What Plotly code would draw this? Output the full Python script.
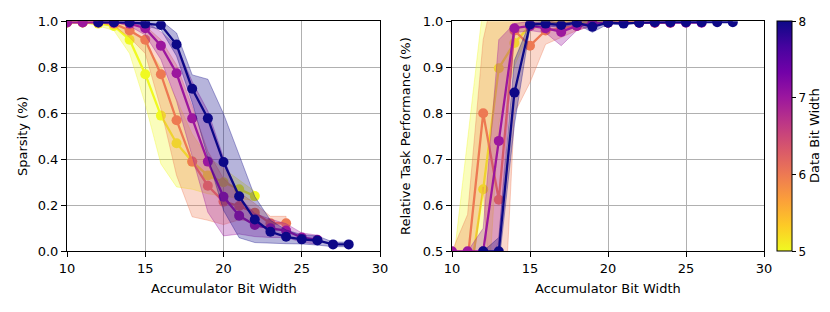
import plotly.graph_objects as go

# ---------------- data ----------------
data_bits = [5, 6, 7, 8]
colors = {5: "#f0f921", 6: "#ed7953", 7: "#9c179e", 8: "#0d0887"}
rgb = {5: (240, 249, 33), 6: (237, 121, 83), 7: (156, 23, 158), 8: (13, 8, 135)}

acc_5 = list(range(10, 23))
acc_6 = list(range(10, 25))
acc_7 = list(range(10, 27))
acc_8 = list(range(12, 29))

# Sparsity (left)
sp_mean_5 = [0.995, 0.995, 0.99, 0.98, 0.92, 0.77, 0.59, 0.47, 0.39, 0.33, 0.30, 0.27, 0.24]
sp_std_5 = [0.0, 0.0, 0.01, 0.02, 0.06, 0.13, 0.21, 0.19, 0.12, 0.08, 0.06, 0.04, 0.02]
sp_mean_6 = [0.995, 0.995, 0.995, 0.99, 0.96, 0.92, 0.77, 0.57, 0.39, 0.285, 0.216, 0.197, 0.168, 0.122, 0.122]
sp_std_6 = [0.0, 0.0, 0.0, 0.01, 0.03, 0.06, 0.15, 0.24, 0.24, 0.15, 0.10, 0.06, 0.04, 0.03, 0.03]
sp_mean_7 = [0.995, 0.995, 0.995, 0.995, 0.99, 0.97, 0.894, 0.774, 0.578, 0.39, 0.237, 0.155, 0.114, 0.10, 0.09, 0.06, 0.05]
sp_std_7 = [0.0, 0.0, 0.0, 0.0, 0.01, 0.03, 0.06, 0.12, 0.16, 0.22, 0.17, 0.08, 0.05, 0.04, 0.03, 0.02, 0.02]
sp_mean_8 = [0.995, 0.995, 0.995, 0.99, 0.984, 0.899, 0.707, 0.578, 0.388, 0.239, 0.138, 0.085, 0.063, 0.052, 0.047, 0.03, 0.03]
sp_std_8 = [0.0, 0.0, 0.0, 0.01, 0.02, 0.05, 0.06, 0.17, 0.21, 0.18, 0.10, 0.05, 0.03, 0.02, 0.02, 0.01, 0.01]

# Relative task performance (right)
rp_mean_5 = [0.30, 0.41, 0.635, 0.898, 0.953, 0.99, 0.997, 0.998, 0.998, 0.998, 0.998, 0.998, 0.998]
rp_std_5 = [0.15, 0.33, 0.40, 0.12, 0.05, 0.01, 0.003, 0.0, 0.0, 0.0, 0.0, 0.0, 0.0]
rp_mean_6 = [0.45, 0.48, 0.80, 0.612, 0.98, 0.947, 0.98, 0.985, 0.99, 0.995, 0.997, 0.997, 0.997, 0.997, 0.997]
rp_std_6 = [0.05, 0.10, 0.16, 0.50, 0.18, 0.08, 0.03, 0.02, 0.01, 0.005, 0.0, 0.0, 0.0, 0.0, 0.0]
rp_mean_7 = [0.50, 0.50, 0.50, 0.74, 0.985, 0.99, 0.985, 0.977, 0.99, 0.995, 0.997, 0.997, 0.997, 0.997, 0.997, 0.997, 0.997]
rp_std_7 = [0.0, 0.0, 0.05, 0.22, 0.01, 0.01, 0.01, 0.03, 0.01, 0.005, 0.0, 0.0, 0.0, 0.0, 0.0, 0.0, 0.0]
rp_mean_8 = [0.50, 0.50, 0.845, 0.993, 0.995, 0.992, 0.997, 0.988, 0.997, 0.995, 0.997, 0.998, 0.998, 0.998, 0.998, 0.998, 0.998]
rp_std_8 = [0.0, 0.03, 0.07, 0.005, 0.005, 0.005, 0.003, 0.012, 0.003, 0.003, 0.0, 0.0, 0.0, 0.0, 0.0, 0.0, 0.0]

x_ticks = [10, 15, 20, 25, 30]
sp_ticks = [0.0, 0.2, 0.4, 0.6, 0.8, 1.0]
rp_ticks = [0.5, 0.6, 0.7, 0.8, 0.9, 1.0]
cbar_ticks = [5, 6, 7, 8]

series = {
    5: (acc_5, sp_mean_5, sp_std_5, rp_mean_5, rp_std_5),
    6: (acc_6, sp_mean_6, sp_std_6, rp_mean_6, rp_std_6),
    7: (acc_7, sp_mean_7, sp_std_7, rp_mean_7, rp_std_7),
    8: (acc_8, sp_mean_8, sp_std_8, rp_mean_8, rp_std_8),
}

# ---------------- figure geometry (page pixels; page has 8px body margin) ----------------
OFF = 8
W, H = 830 - OFF, 312 - OFF


def px(x):
    return (x - OFF) / W


def py(y):
    return 1 - (y - OFF) / H


fig = go.Figure()
FONT = "DejaVu Sans"


def rgba(b, a):
    r, g, bb = rgb[b]
    return f"rgba({r},{g},{bb},{a})"


for b in data_bits:
    xs, spm, sps, rpm, rps = series[b]
    for (mean, std, xa, ya) in ((spm, sps, "x", "y"), (rpm, rps, "x2", "y2")):
        up = [m + s for m, s in zip(mean, std)]
        lo = [m - s for m, s in zip(mean, std)]
        fig.add_trace(go.Scatter(
            x=xs + xs[::-1], y=up + lo[::-1], fill="toself",
            fillcolor=rgba(b, 0.3), line=dict(color=rgba(b, 0.35), width=1),
            mode="lines", hoverinfo="skip", showlegend=False, xaxis=xa, yaxis=ya))
        fig.add_trace(go.Scatter(
            x=xs, y=mean, mode="lines+markers",
            line=dict(color=colors[b], width=2.3),
            marker=dict(color=colors[b], size=10),
            showlegend=False, xaxis=xa, yaxis=ya))

ytop = py(21.3)
ybot = py(251.3)

# colorbar trace
fig.add_trace(go.Scatter(
    x=[None], y=[None], mode="markers", showlegend=False,
    marker=dict(color=[5], cmin=5, cmax=8, colorscale="Plasma_r", showscale=True,
                colorbar=dict(x=px(777), xanchor="left", y=(ytop + ybot) / 2,
                              yanchor="middle", len=ytop - ybot, lenmode="fraction",
                              thickness=15, outlinecolor="black", outlinewidth=1,
                              tickvals=cbar_ticks, ticks="outside", ticklen=4,
                              tickcolor="black", tickfont=dict(family=FONT, size=12, color="black"),
                              xpad=0, ypad=0)),
    xaxis="x2", yaxis="y2"))

axis_common = dict(
    showline=True, mirror=True, linecolor="black", linewidth=1,
    ticks="outside", ticklen=5, tickwidth=1, tickcolor="black",
    showgrid=True, gridcolor="#b0b0b0", gridwidth=1, zeroline=False,
    tickfont=dict(family=FONT, size=13, color="black"),
)

ydom = [ybot, ytop]
fig.update_layout(
    width=W, height=H,
    margin=dict(l=0, r=0, t=0, b=0, autoexpand=False),
    paper_bgcolor="white", plot_bgcolor="white",
    showlegend=False,
    xaxis=dict(domain=[px(67), px(380)], range=[10, 30], tickvals=x_ticks, anchor="y", **axis_common),
    yaxis=dict(domain=ydom, range=[0, 1], tickvals=sp_ticks, ticktext=[f"{v:.1f}" for v in sp_ticks],
               anchor="x", **axis_common),
    xaxis2=dict(domain=[px(452), px(764)], range=[10, 30], tickvals=x_ticks, anchor="y2", **axis_common),
    yaxis2=dict(domain=ydom, range=[0.5, 1], tickvals=rp_ticks, ticktext=[f"{v:.1f}" for v in rp_ticks],
                anchor="x2", **axis_common),
)

ann_font = dict(family=FONT, size=13, color="black")
common_ann = dict(xref="paper", yref="paper", showarrow=False, font=ann_font,
                  xanchor="center", yanchor="middle")
fig.add_annotation(text="Accumulator Bit Width", x=px(223.5), y=py(288), **common_ann)
fig.add_annotation(text="Accumulator Bit Width", x=px(608), y=py(288), **common_ann)
fig.add_annotation(text="Sparsity (%)", x=px(22), y=py(136), textangle=-90, **common_ann)
fig.add_annotation(text="Relative Task Performance (%)", x=px(405), y=py(136), textangle=-90, **common_ann)
fig.add_annotation(text="Data Bit Width", x=px(814), y=py(136), textangle=-90, **common_ann)

fig.write_html("out.html")
